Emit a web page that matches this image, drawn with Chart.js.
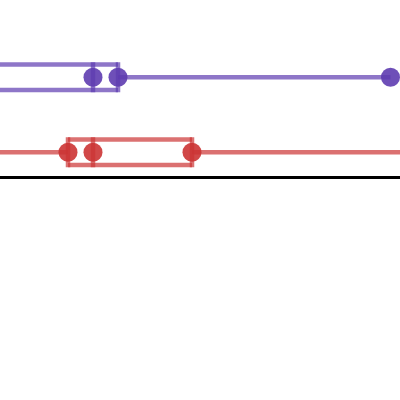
<!DOCTYPE html>
<html>
<head>
<meta charset="utf-8">
<script src="https://cdn.jsdelivr.net/npm/chart.js@4/dist/chart.umd.min.js"></script>
<style>
  html, body { margin: 0; padding: 0; background: #fff; }
  #wrap { width: 400px; height: 400px; }
</style>
</head>
<body>
<div id="wrap"><canvas id="c" width="400" height="400"></canvas></div>
<script>
// box stats per row (row 1 = purple, row 2 = red)
var rows = [1, 2];
var mins = [-2, -1];
var q1s = [0, 3];
var medians = [4, 4];
var q3s = [5, 7.96];
var maxs = [15.9, 18];
var points = [[4, 5, 15.9], [3, 4, 7.96]];
var colors = ['94,60,176', '204,52,52'];

// x axis sits at this value on the row scale
var axisAt = 2.34;

var HALF = 0.17; // half box height in row units

function line(pts, col) {
    return {
        type: 'line',
        data: pts,
        borderColor: 'rgba(' + col + ',0.7)',
        borderWidth: 4.5,
        pointRadius: 0,
        tension: 0,
        fill: false,
        order: 1
    };
}

var datasets = [];
rows.forEach(function(r, i) {
    var c = colors[i];
    // whiskers
    datasets.push(line([{x: mins[i], y: r}, {x: q1s[i], y: r}], c));
    datasets.push(line([{x: q3s[i], y: r}, {x: maxs[i], y: r}], c));
    // box top and bottom
    datasets.push(line([{x: q1s[i], y: r - HALF}, {x: q3s[i], y: r - HALF}], c));
    datasets.push(line([{x: q1s[i], y: r + HALF}, {x: q3s[i], y: r + HALF}], c));
    // box ends and median
    [q1s[i], medians[i], q3s[i]].forEach(function(v) {
        var d = line([{x: v, y: r - HALF}, {x: v, y: r + HALF}], c);
        d.borderCapStyle = 'square';
        datasets.push(d);
    });
    // points
    datasets.push({
        type: 'scatter',
        data: points[i].map(function(v) { return {x: v, y: r}; }),
        backgroundColor: 'rgba(' + c + ',0.9)',
        borderWidth: 0,
        pointRadius: 9.5,
        order: 0
    });
});

new Chart(document.getElementById('c'), {
    type: 'scatter',
    data: { datasets: datasets },
    options: {
        responsive: false,
        animation: false,
        layout: { padding: 0, autoPadding: false },
        plugins: { legend: { display: false }, tooltip: { enabled: false } },
        scales: {
            x: {
                type: 'linear',
                min: 0.28,
                max: 16.28,
                position: { y: axisAt },
                ticks: { display: false },
                grid: { display: true, drawOnChartArea: false, drawTicks: false },
                border: { display: true, color: '#000', width: 3 }
            },
            y: {
                type: 'linear',
                reverse: true,
                min: -0.03,
                max: 5.303,
                display: false
            }
        }
    }
});
</script>
</body>
</html>
